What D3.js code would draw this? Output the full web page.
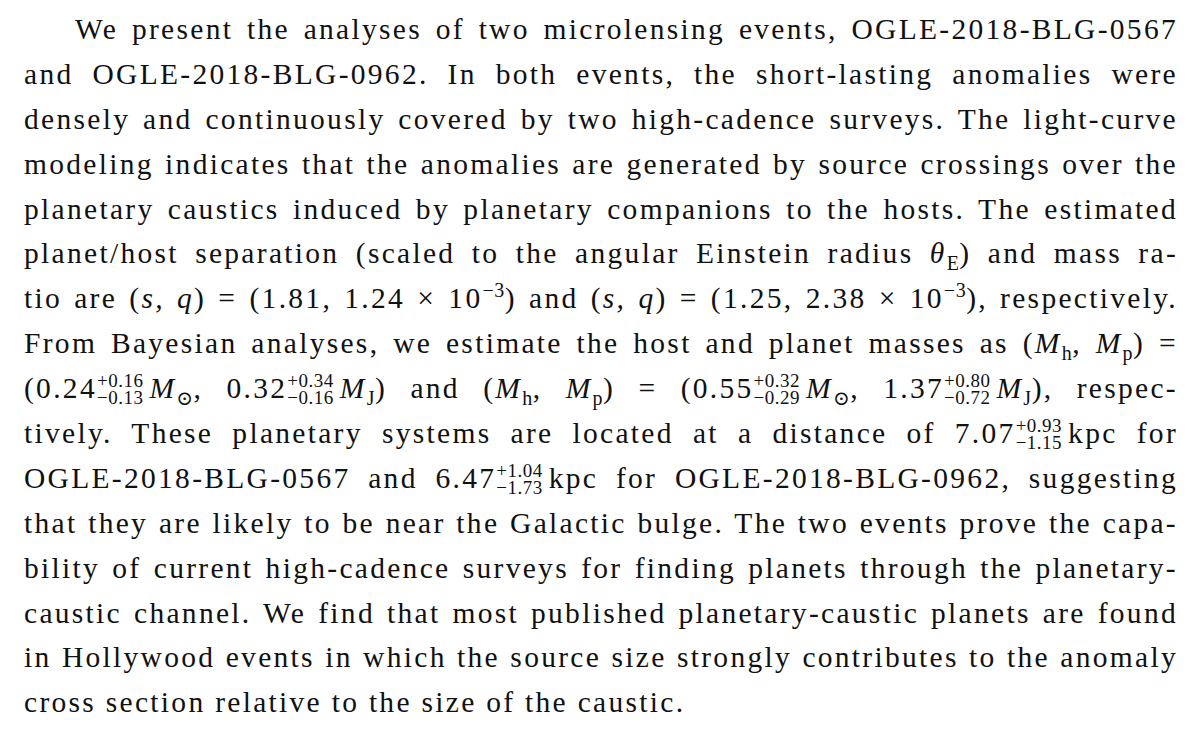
<!DOCTYPE html>
<html>
<head>
<meta charset="utf-8">
<script src="https://cdn.jsdelivr.net/npm/d3@7"></script>
<style>
  body { margin: 0; background: #fff; }
  #page { position: absolute; left: 24px; top: 7px; width: 1154px;
    font-family: "Liberation Serif", "DejaVu Serif", serif; font-size: 29.5px; letter-spacing: 2.3px; color: #111; }
  .line { height: 44.9px; line-height: 44.9px; white-space: nowrap; text-align: justify; text-align-last: justify; }
  .line.last { text-align-last: left; }
  .line.first { padding-left: 51px; }
  .it { font-style: italic; }
  sub, sup { font-size: 20px; line-height: 0; letter-spacing: 0.5px; }
  .pm { display: inline-block; vertical-align: -0.32em; line-height: 17px; font-size: 19px; letter-spacing: 0.5px; text-align: left; text-align-last: left; margin-right: 6px; }
  .pm span { display: block; }
</style>
</head>
<body>
<div id="page"></div>
<script>
// each line: strings = plain text, {i} italic, {sub}, {sup}, {pm:[upper, lower]}
const lines = [
  ["We present the analyses of two microlensing events, OGLE-2018-BLG-0567"],
  ["and OGLE-2018-BLG-0962.  In both events, the short-lasting anomalies were"],
  ["densely and continuously covered by two high-cadence surveys. The light-curve"],
  ["modeling indicates that the anomalies are generated by source crossings over the"],
  ["planetary caustics induced by planetary companions to the hosts. The estimated"],
  ["planet/host separation (scaled to the angular Einstein radius ", {i: "θ"}, {sub: "E"}, ") and mass ra-"],
  ["tio are (", {i: "s, q"}, ") = (1.81, 1.24 × 10", {sup: "−3"}, ") and (", {i: "s, q"}, ") = (1.25, 2.38 × 10", {sup: "−3"}, "), respectively."],
  ["From Bayesian analyses, we estimate the host and planet masses as (", {i: "M"}, {sub: "h"}, ", ", {i: "M"}, {sub: "p"}, ") ="],
  ["(0.24", {pm: ["+0.16", "−0.13"]}, {i: "M"}, {sub: "⊙"}, ", 0.32", {pm: ["+0.34", "−0.16"]}, {i: "M"}, {sub: "J"}, ") and (", {i: "M"}, {sub: "h"}, ", ", {i: "M"}, {sub: "p"}, ") = (0.55", {pm: ["+0.32", "−0.29"]}, {i: "M"}, {sub: "⊙"}, ", 1.37", {pm: ["+0.80", "−0.72"]}, {i: "M"}, {sub: "J"}, "), respec-"],
  ["tively.  These planetary systems are located at a distance of 7.07", {pm: ["+0.93", "−1.15"]}, "kpc for"],
  ["OGLE-2018-BLG-0567 and 6.47", {pm: ["+1.04", "−1.73"]}, "kpc for OGLE-2018-BLG-0962, suggesting"],
  ["that they are likely to be near the Galactic bulge. The two events prove the capa-"],
  ["bility of current high-cadence surveys for finding planets through the planetary-"],
  ["caustic channel. We find that most published planetary-caustic planets are found"],
  ["in Hollywood events in which the source size strongly contributes to the anomaly"],
  ["cross section relative to the size of the caustic."]
]

const page = d3.select("#page")
lines.forEach((segs, li) => {
  const div = page.append("div")
    .attr("class", "line" + (li === 0 ? " first" : "") + (li === lines.length - 1 ? " last" : ""))
  segs.forEach(s => {
    if (typeof s === "string") div.append("span").text(s)
    else if (s.i) div.append("span").attr("class", "it").text(s.i)
    else if (s.sub) div.append("sub").text(s.sub)
    else if (s.sup) div.append("sup").text(s.sup)
    else if (s.pm) {
      const pm = div.append("span").attr("class", "pm")
      pm.append("span").text(s.pm[0])
      pm.append("span").text(s.pm[1])
    }
  })
})
</script>
</body>
</html>
